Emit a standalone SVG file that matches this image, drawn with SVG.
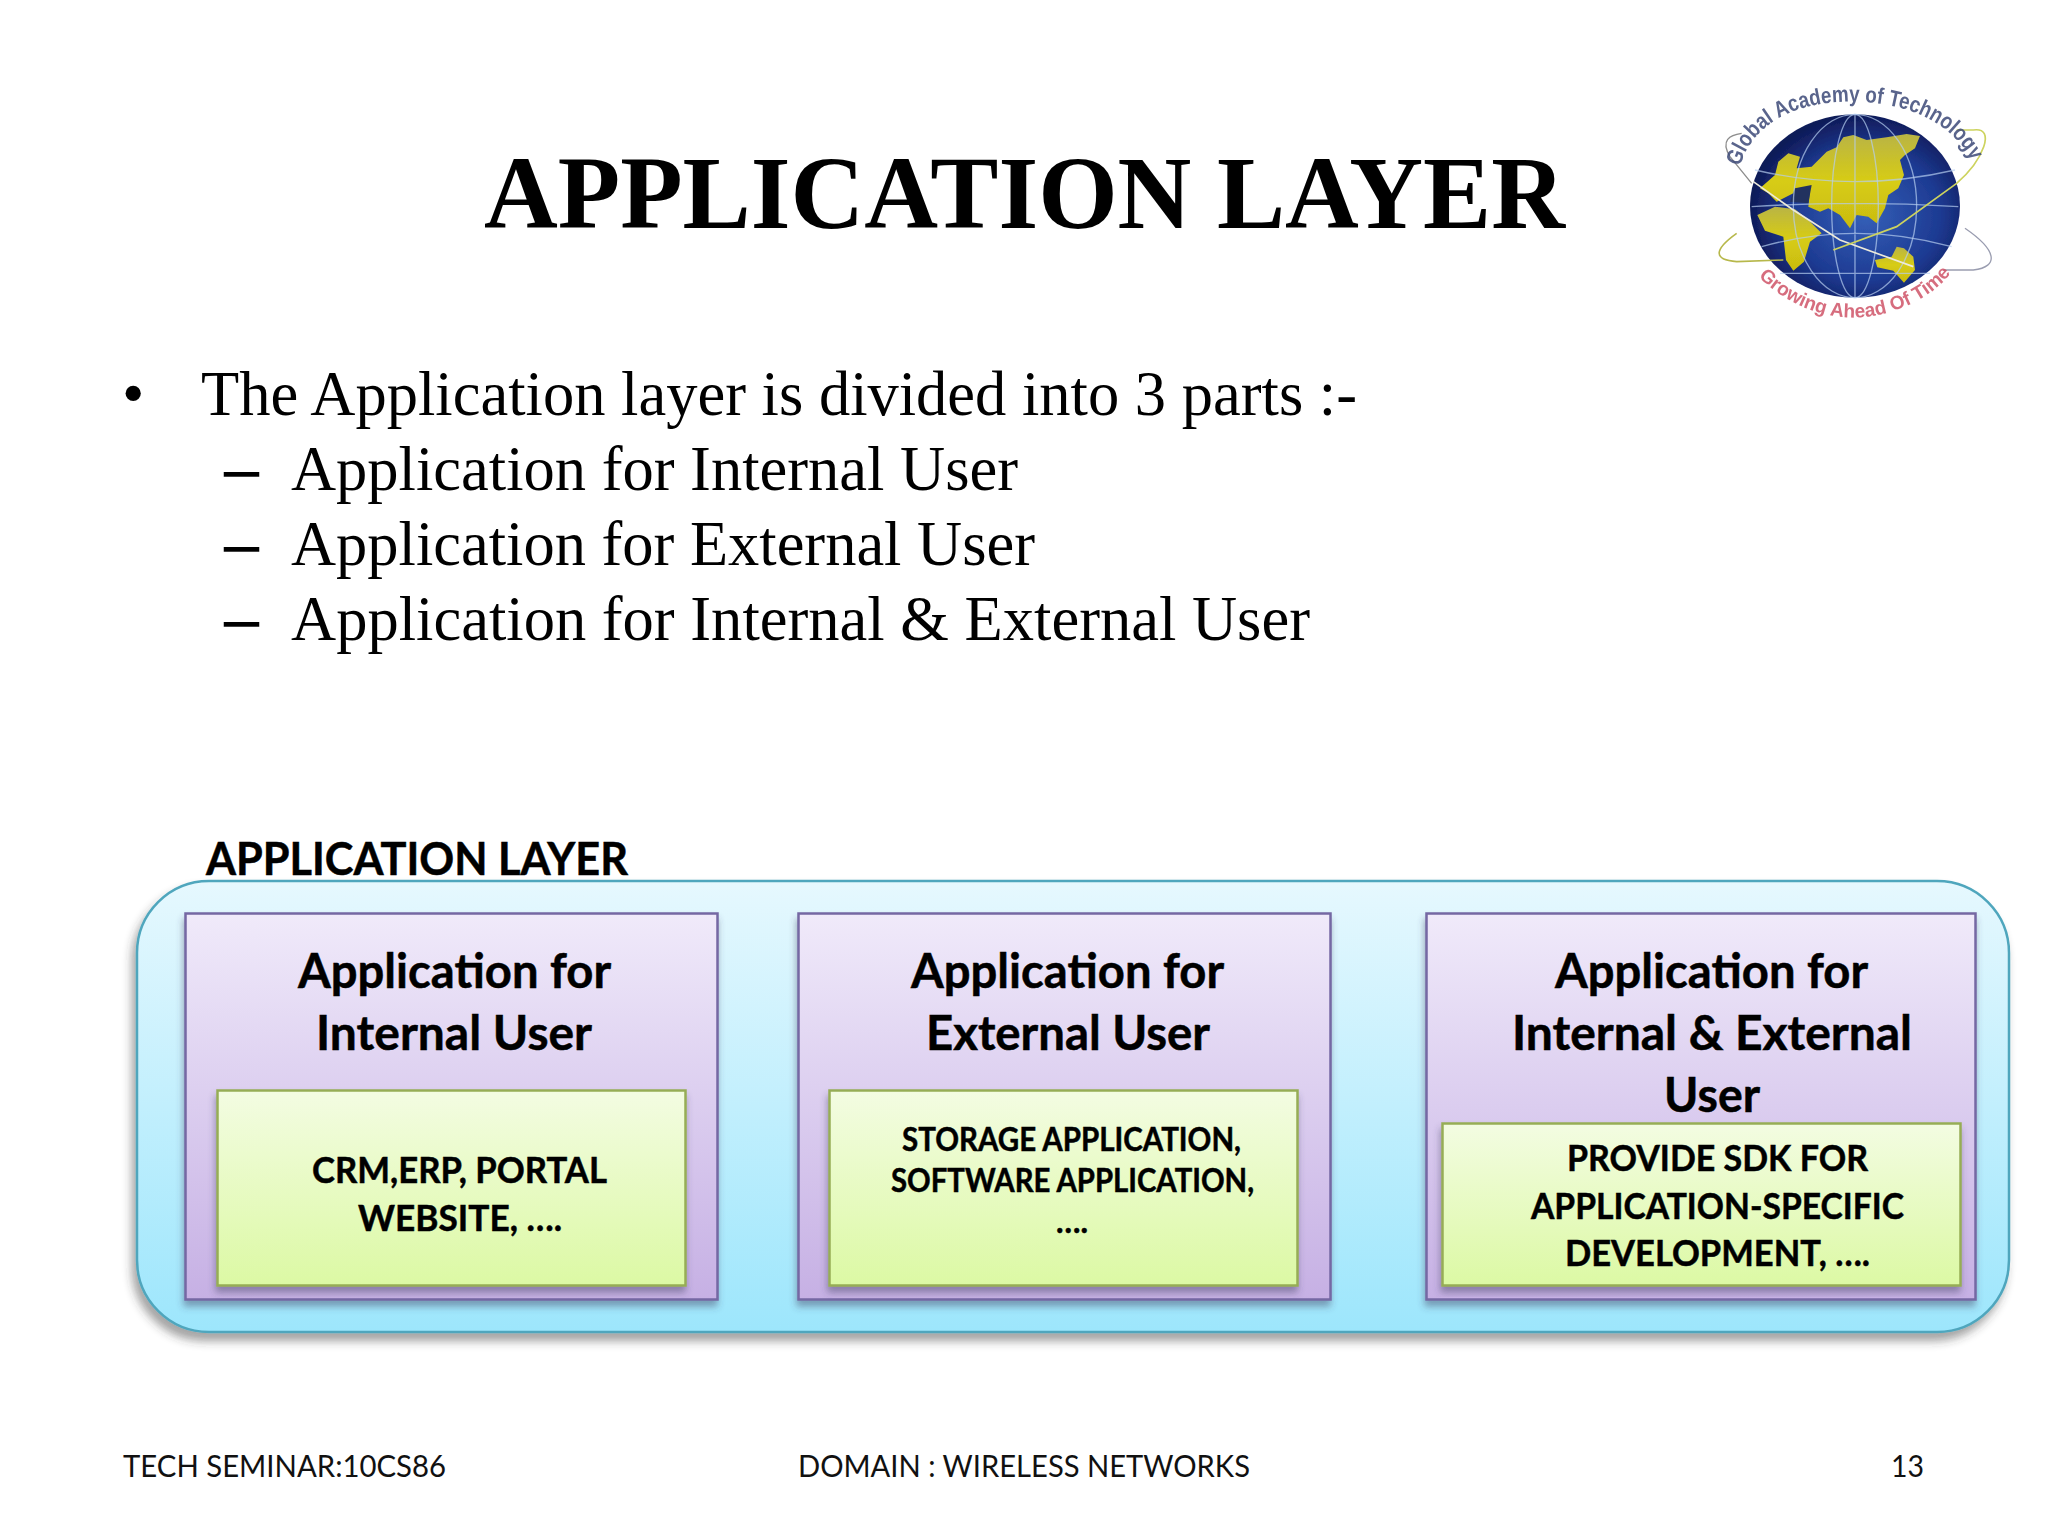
<svg xmlns="http://www.w3.org/2000/svg" width="2048" height="1536" viewBox="0 0 2048 1536">
<style>
.t{font-family:"Liberation Serif","Times New Roman",serif;fill:#000}
.b{font-size:64px}
.d{font-size:66px;stroke:#000;stroke-width:1.6px}
.c{font-family:Lato,"Open Sans",sans-serif;fill:#000;font-weight:700;stroke:#000;stroke-width:.5px}
.h{font-size:47px}
.f{font-family:Lato,"Open Sans",sans-serif;font-size:31px;fill:#111}
.purple{fill:url(#pg);stroke:#7467a3;stroke-width:2.5;filter:url(#sd)}
.green{fill:url(#gg);stroke:#96ad55;stroke-width:2.5;filter:url(#sd)}
.grid{fill:none;stroke:#b5cdf0;stroke-width:4;opacity:.7}
</style>
<defs>
<linearGradient id="og" x1="0" y1="0" x2="0" y2="1"><stop offset="0" stop-color="#e6f8fe"/><stop offset="1" stop-color="#9de6fc"/></linearGradient>
<linearGradient id="pg" x1="0" y1="0" x2="0" y2="1"><stop offset="0" stop-color="#f0eafa"/><stop offset="1" stop-color="#c6b0e4"/></linearGradient>
<linearGradient id="gg" x1="0" y1="0" x2="0" y2="1"><stop offset="0" stop-color="#f3fce2"/><stop offset="1" stop-color="#dcf9a4"/></linearGradient>
<radialGradient id="globe" cx=".55" cy=".55" r=".55"><stop offset="0" stop-color="#3560b8"/><stop offset=".65" stop-color="#1d3a92"/><stop offset="1" stop-color="#0f1a58"/></radialGradient>
<linearGradient id="land" x1="0" y1="0" x2="0" y2="1"><stop offset="0" stop-color="#b9b445"/><stop offset=".5" stop-color="#d7cc14"/><stop offset="1" stop-color="#c9bb10"/></linearGradient>
<filter id="sd" x="-5%" y="-5%" width="110%" height="112%"><feDropShadow dx="-1" dy="6" stdDeviation="3.5" flood-color="#404060" flood-opacity=".45"/></filter>
<filter id="so" x="-3%" y="-3%" width="106%" height="108%"><feDropShadow dx="-4" dy="8" stdDeviation="5" flood-color="#333" flood-opacity=".45"/></filter>
<filter id="soft" x="-5%" y="-5%" width="110%" height="110%"><feGaussianBlur stdDeviation="2"/></filter>
<path id="arcTop" d="M180,320 C215,190 350,125 510,125 C670,125 820,180 880,315"/>
<path id="arcBot" d="M235,650 C310,725 420,778 540,772 C650,765 760,710 815,635"/>
</defs>
<rect width="2048" height="1536" fill="#fff"/>
<text class="t" x="484" y="228" font-size="104" font-weight="700" textLength="1081" lengthAdjust="spacingAndGlyphs">APPLICATION LAYER</text>
<g id="logo" transform="translate(1680,60) scale(.3333)">
<g filter="url(#soft)">
<ellipse cx="525" cy="438" rx="315" ry="275" fill="url(#globe)"/>
<path d="M295,305 L325,280 L360,290 L350,325 L395,320 L440,275 L470,262 L490,232 L520,225 L560,240 L620,232 L680,222 L720,228 L705,265 L675,285 L660,300 L672,345 L655,385 L625,405 L615,445 L590,490 L565,470 L530,465 L510,505 L480,465 L445,445 L420,455 L385,440 L390,395 L340,400 L290,425 L265,400 L240,385 L285,345Z" fill="url(#land)"/>
<path d="M232,465 L285,440 L345,448 L385,480 L425,520 L390,545 L372,605 L340,632 L318,600 L310,530 L255,512Z" fill="url(#land)"/>
<path d="M585,600 L635,590 L650,560 L672,565 L700,590 L705,630 L672,668 L640,632 L592,622Z" fill="url(#land)"/>
<path d="M345,385 L395,375 L385,430 L330,425Z" fill="#24335e"/>
<ellipse class="grid" cx="525" cy="438" rx="185" ry="275"/>
<ellipse class="grid" cx="525" cy="438" rx="70" ry="275"/>
<path class="grid" d="M525,165V713M225,330Q525,400 825,330M215,440Q525,420 835,440M245,560Q525,480 815,560M300,640Q525,640 750,640"/>
<path d="M220,365 L340,450 L480,540 L700,620" fill="none" stroke="#eceada" stroke-width="5"/>
<path d="M460,570 L650,500 L830,370 C910,300 950,200 880,210 L830,210" fill="none" stroke="#cdd35e" stroke-width="5"/>
<path d="M215,370 L150,290 C120,240 150,225 185,220" fill="none" stroke="#8d8d8d" stroke-width="4"/>
<path d="M170,520 C100,570 100,600 170,605 L310,600" fill="none" stroke="#b7b84c" stroke-width="5"/>
<path d="M855,505 C950,570 960,620 880,630 L790,630" fill="none" stroke="#9a9db0" stroke-width="4"/>
</g>
<text font-family="Liberation Sans,Arial,sans-serif" font-size="68" font-weight="700" fill="#3d4a78" opacity=".85"><textPath href="#arcTop" textLength="840" lengthAdjust="spacingAndGlyphs">Global Academy of Technology</textPath></text>
<text font-family="Liberation Sans,Arial,sans-serif" font-size="58" font-weight="700" fill="#cf5468" opacity=".85"><textPath href="#arcBot" textLength="650" lengthAdjust="spacingAndGlyphs">Growing Ahead Of Time</textPath></text>
</g>
<g id="bullets">
<text class="t" x="122" y="415" font-size="64">•</text>
<text class="t b" x="201" y="415" textLength="1156" lengthAdjust="spacingAndGlyphs">The Application layer is divided into 3 parts :-</text>
<text class="t d" x="225" y="490">–</text>
<text class="t b" x="291" y="490" textLength="727" lengthAdjust="spacingAndGlyphs">Application for Internal User</text>
<text class="t d" x="225" y="565">–</text>
<text class="t b" x="291" y="565" textLength="744" lengthAdjust="spacingAndGlyphs">Application for External User</text>
<text class="t d" x="225" y="640">–</text>
<text class="t b" x="291" y="640" textLength="1019" lengthAdjust="spacingAndGlyphs">Application for Internal &amp; External User</text>
</g>
<text id="layer-label" class="c" x="206" y="875" font-size="45" textLength="422" lengthAdjust="spacingAndGlyphs">APPLICATION LAYER</text>
<g id="outer"><rect x="137" y="881" width="1872" height="451" rx="72" fill="url(#og)" stroke="#4fa6bd" stroke-width="2.5" filter="url(#so)"/></g>
<g id="node-internal">
<rect class="purple" x="185.500" y="913.500" width="532" height="386"/>
<text class="c h" x="298" y="988" textLength="313" lengthAdjust="spacingAndGlyphs">Application for</text>
<text class="c h" x="316" y="1050" textLength="276" lengthAdjust="spacingAndGlyphs">Internal User</text>
<rect class="green" x="217.500" y="1090.500" width="468" height="195"/>
<text class="c" font-size="37" x="312" y="1183" textLength="295" lengthAdjust="spacingAndGlyphs">CRM,ERP, PORTAL</text>
<text class="c" font-size="37" x="358" y="1231" textLength="204" lengthAdjust="spacingAndGlyphs">WEBSITE, ….</text>
</g>
<g id="node-external">
<rect class="purple" x="798.500" y="913.500" width="532" height="386"/>
<text class="c h" x="911" y="988" textLength="313" lengthAdjust="spacingAndGlyphs">Application for</text>
<text class="c h" x="926" y="1050" textLength="284" lengthAdjust="spacingAndGlyphs">External User</text>
<rect class="green" x="829.500" y="1090.500" width="468" height="195"/>
<text class="c" font-size="32" x="902" y="1151" textLength="339" lengthAdjust="spacingAndGlyphs">STORAGE APPLICATION,</text>
<text class="c" font-size="32" x="891" y="1192" textLength="363" lengthAdjust="spacingAndGlyphs">SOFTWARE APPLICATION,</text>
<text class="c" font-size="32" x="1056" y="1233" textLength="32" lengthAdjust="spacingAndGlyphs">….</text>
</g>
<g id="node-both">
<rect class="purple" x="1426.500" y="913.500" width="549" height="386"/>
<text class="c h" x="1555" y="988" textLength="313" lengthAdjust="spacingAndGlyphs">Application for</text>
<text class="c h" x="1512" y="1050" textLength="400" lengthAdjust="spacingAndGlyphs">Internal &amp; External</text>
<text class="c h" x="1664" y="1112" textLength="96" lengthAdjust="spacingAndGlyphs">User</text>
<rect class="green" x="1442.500" y="1123.500" width="518" height="162"/>
<text class="c" font-size="37" x="1567" y="1171" textLength="301" lengthAdjust="spacingAndGlyphs">PROVIDE SDK FOR</text>
<text class="c" font-size="37" x="1531" y="1219" textLength="373" lengthAdjust="spacingAndGlyphs">APPLICATION-SPECIFIC</text>
<text class="c" font-size="37" x="1565" y="1266" textLength="305" lengthAdjust="spacingAndGlyphs">DEVELOPMENT, ….</text>
</g>
<g id="footer">
<text class="f" x="123" y="1477" textLength="323" lengthAdjust="spacingAndGlyphs">TECH SEMINAR:10CS86</text>
<text class="f" x="798" y="1477" textLength="452" lengthAdjust="spacingAndGlyphs">DOMAIN : WIRELESS NETWORKS</text>
<text class="f" x="1891" y="1477" textLength="33" lengthAdjust="spacingAndGlyphs">13</text>
</g>
<g id="connectors"/>
</svg>
